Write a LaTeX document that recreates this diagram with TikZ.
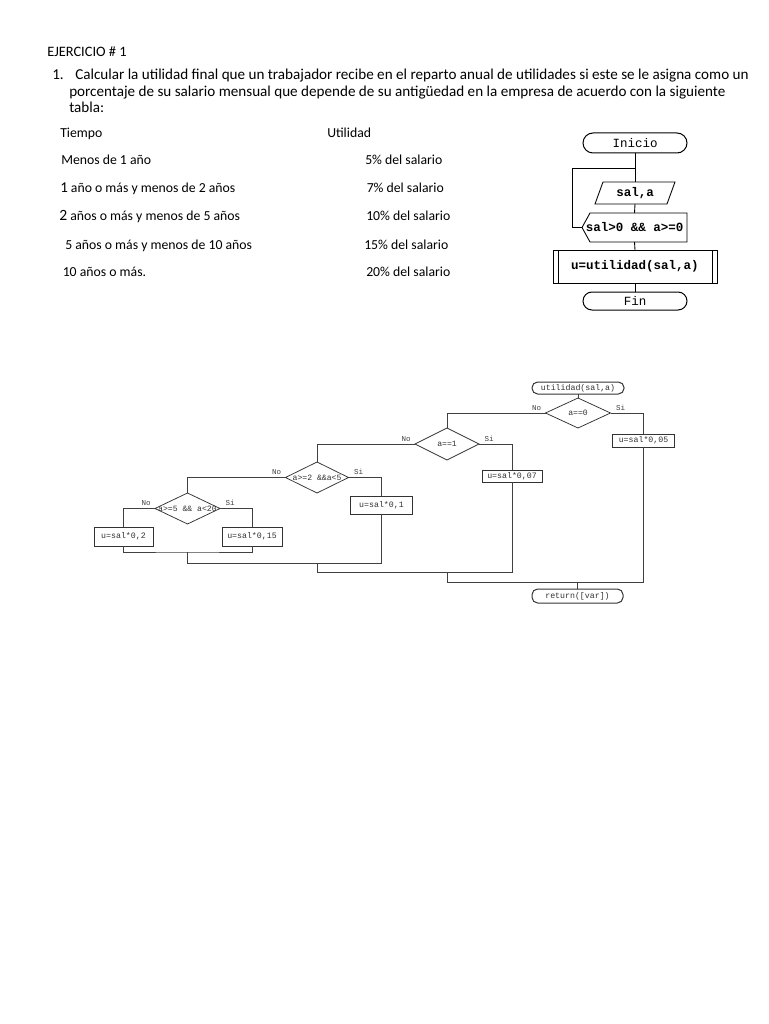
\documentclass[tikz,border=0pt]{standalone}
\usepackage{fontspec}
\setmainfont{Carlito}
\newfontfamily\cmono{Liberation Mono}
\usetikzlibrary{shapes.geometric,calc}
\begin{document}
\begin{tikzpicture}[x=0.8pt,y=-0.8pt,
  txt/.style={anchor=base west,inner sep=0pt,font=\fontsize{11}{13}\selectfont},
  ptxt/.style={anchor=base west,inner sep=0pt,font=\fontsize{12.1}{14}\selectfont},
  sline/.style={draw=black,line width=0.7pt},
  sterm/.style={draw=black,line width=0.8pt,inner sep=0pt,outer sep=0pt,font=\cmono\fontsize{10}{12}\selectfont},
  sbox/.style={inner sep=0pt,outer sep=0pt,font=\cmono\bfseries\fontsize{10}{12}\selectfont},
  lline/.style={draw=black!75,line width=0.55pt},
  lbox/.style={draw=black!80,line width=0.8pt,inner sep=0pt,outer sep=0pt,font=\cmono\fontsize{6.6}{8}\selectfont,text=black!80},
  lterm/.style={lbox,rounded corners=4.5pt},
  ldia/.style={draw=black!80,line width=0.6pt,shape=diamond,inner sep=0pt,outer sep=0pt},
  dtext/.style={font=\cmono\fontsize{6.5}{8}\selectfont,text=black!80},
  yn/.style={font=\cmono\fontsize{6}{7}\selectfont,text=black!75,inner sep=1pt}
]
\useasboundingbox[fill=white] (0,0) rectangle (768,1024);

% ---------- heading text ----------
\node[anchor=base west,inner sep=0pt,font=\fontsize{11.5}{13}\selectfont] (h0) at (47,57) {EJERCICIO \# 1};
\node[ptxt] (h1n) at (52,80) {1.};
\node[ptxt] (h1) at (75,80) {Calcular la utilidad final que un trabajador recibe en el reparto anual de utilidades si este se le asigna como un};
\node[ptxt] (h2) at (69,96.5) {porcentaje de su salario mensual que depende de su antigüedad en la empresa de acuerdo con la siguiente};
\node[ptxt] (h3) at (69,113) {tabla:};

\node[txt] (t0) at (60,138) {Tiempo};
\node[txt] (u0) at (327,138) {Utilidad};
\node[txt] (t1) at (61,165) {Menos de 1 año};
\node[txt] (u1) at (365,165) {5\% del salario};
\node[txt] (t2) at (60,192.5) {{\fontsize{12}{13}\selectfont 1} año o más y menos de 2 años};
\node[txt] (u2) at (366.5,192.5) {7\% del salario};
\node[txt] (t3) at (59,220.5) {{\fontsize{12.5}{13}\selectfont 2} años o más y menos de 5 años};
\node[txt] (u3) at (366,220.5) {10\% del salario};
\node[txt] (t4) at (65,249) {5 años o más y menos de 10 años};
\node[txt] (u4) at (364,249) {15\% del salario};
\node[txt] (t5) at (62.5,276) {10 años o más.};
\node[txt] (u5) at (366,276) {20\% del salario};

% ---------- small flowchart ----------
\node[sterm,rounded corners=8pt,minimum width=83.2pt,minimum height=16pt] (ini) at (635,143) {Inicio};
\node[sbox,minimum width=64pt,minimum height=17.6pt] (inp) at (635,193) {sal,a};
\draw[sline] ($(inp.north west)+(8,0)$) -- (inp.north east) -- ($(inp.south east)+(-8,0)$) -- (inp.south west) -- cycle;
\node[sbox,minimum width=84pt,minimum height=23.2pt] (cond) at (634.5,227.5) {sal>0 \&\& a>=0};
\draw[sline] (cond.west) -- ($(cond.north west)+(8,0)$) -- (cond.north east) -- (cond.south east) -- ($(cond.south west)+(8,0)$) -- cycle;
\node[sbox,draw=black,line width=0.8pt,minimum width=131.2pt,minimum height=26.4pt] (sub) at (635,266.5) {u=utilidad(sal,a)};
\draw[sline] ($(sub.north west)+(5,0)$) -- ($(sub.south west)+(5,0)$);
\draw[sline] ($(sub.north east)+(-5,0)$) -- ($(sub.south east)+(-5,0)$);
\node[sterm,rounded corners=7.2pt,minimum width=83.2pt,minimum height=14.4pt] (fin) at (635,301) {Fin};

\draw[sline] (ini.south) -- (inp.north);
\draw[sline] (inp.south) -- (cond.north);
\draw[sline] (cond.south) -- (sub.north);
\draw[sline] (sub.south) -- (fin.north);
\coordinate (lp) at (635,168);
\coordinate (lpc) at (572,168);
\draw[sline] (cond.west) -| (lpc) -- (lp);

% ---------- lower flowchart ----------
\node[lterm,minimum width=73.6pt,minimum height=9.6pt] (fn) at (578,388) {utilidad(sal,a)};
\node[ldia,minimum width=52pt,minimum height=24pt,label={[dtext]center:a==0}] (d0) at (578,413) {};
\node[lbox,minimum width=49.6pt,minimum height=10.4pt] (b05) at (643.5,440.5) {u=sal*0,05};
\node[ldia,minimum width=51.2pt,minimum height=25.6pt,label={[dtext]center:a==1}] (d1) at (447,444) {};
\node[lbox,minimum width=48pt,minimum height=9.6pt] (b07) at (512,476) {u=sal*0,07};
\node[ldia,minimum width=50.4pt,minimum height=24.8pt,label={[dtext]center:a>=2 \&\&a<5}] (d2) at (317,477.5) {};
\node[lbox,minimum width=49.6pt,minimum height=14.4pt] (b1) at (381.5,505) {u=sal*0,1};
\node[ldia,minimum width=52pt,minimum height=24.8pt,label={[dtext]center:a>=5 \&\& a<20}] (d3) at (187.5,508.5) {};
\node[lbox,minimum width=47.2pt,minimum height=15.2pt] (b2) at (123.5,536.5) {u=sal*0,2};
\node[lbox,minimum width=48pt,minimum height=15.2pt] (b15) at (252,536.5) {u=sal*0,15};
\node[lterm,minimum width=72.8pt,minimum height=11.2pt] (ret) at (577.5,596) {return([var])};

% yes/no labels
\node[yn,anchor=south east] (n0) at ($(d0.west)+(-3,-1)$) {No};
\node[yn,anchor=south west] (s0) at ($(d0.east)+(4,-1)$) {Si};
\node[yn,anchor=south east] (n1) at ($(d1.west)+(-3,-1)$) {No};
\node[yn,anchor=south west] (s1) at ($(d1.east)+(4,-1)$) {Si};
\node[yn,anchor=south east] (n2) at ($(d2.west)+(-3,-1)$) {No};
\node[yn,anchor=south west] (s2) at ($(d2.east)+(4,-1)$) {Si};
\node[yn,anchor=south east] (n3) at ($(d3.west)+(-3,-1)$) {No};
\node[yn,anchor=south west] (s3) at ($(d3.east)+(4,-1)$) {Si};

% join points
\coordinate (jA) at (447,582);
\coordinate (jB) at (447,572);
\coordinate (jC) at (317,572);
\coordinate (jD) at (317,563);
\coordinate (jE) at (187,563);
\coordinate (jF) at (187,552);

\draw[lline] (fn.south) -- (d0.north);
\draw[lline] (d0.east) -| (b05.north);
\draw[lline] (d0.west) -| (d1.north);
\draw[lline] (d1.east) -| (b07.north);
\draw[lline] (d1.west) -| (d2.north);
\draw[lline] (d2.east) -| (b1.north);
\draw[lline] (d2.west) -| (d3.north);
\draw[lline] (d3.east) -| (b15.north);
\draw[lline] (d3.west) -| (b2.north);

\draw[lline] (b2.south) |- (jF) -| (b15.south);
\draw[lline] (jF) -- (jE);
\draw[lline] (b1.south) |- (jE);
\draw[lline] (jD) -- (jC);
\draw[lline] (b07.south) |- (jC);
\draw[lline] (jB) -- (jA);
\draw[lline] (b05.south) |- (jA);
\draw[lline] (ret.north) -- (ret.north |- jA);
\end{tikzpicture}
\end{document}
